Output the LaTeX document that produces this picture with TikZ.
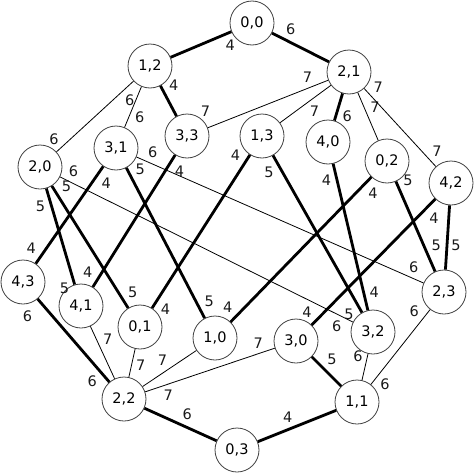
\documentclass[tikz,border=0pt]{standalone}
\usepackage{fontspec}
\setmainfont{DejaVu Sans}
\usepackage{tikz}

\begin{document}
\begin{tikzpicture}[
    x=1pt,
    y=-1pt,
    every node/.style={font=\fontsize{14.5}{16}\selectfont},
    vertex/.style={circle, draw=black!75, line width=0.8pt, fill=white, minimum size=44pt, inner sep=0pt},
    heavy/.style={line width=2.8pt, auto},
    light/.style={line width=0.8pt, auto},
    wt/.style={inner sep=2.5pt, text=black!90},
    far/.style={wt, inner sep=7pt}
]
\useasboundingbox (0,0) rectangle (474,474);

\node[vertex] (n00) at (252, 23) {0,0};
\node[vertex] (n12) at (150, 66) {1,2};
\node[vertex] (n21) at (349, 72) {2,1};
\node[vertex] (n33) at (187,136) {3,3};
\node[vertex] (n31) at (116,148) {3,1};
\node[vertex] (n13) at (262,136) {1,3};
\node[vertex] (n40) at (328,142) {4,0};
\node[vertex] (n02) at (387,161) {0,2};
\node[vertex] (n42) at (451,183) {4,2};
\node[vertex] (n20) at ( 40,167) {2,0};
\node[vertex] (n43) at ( 23,282) {4,3};
\node[vertex] (n41) at ( 81,306) {4,1};
\node[vertex] (n01) at (140,327) {0,1};
\node[vertex] (n10) at (215,338) {1,0};
\node[vertex] (n30) at (296,341) {3,0};
\node[vertex] (n32) at (373,332) {3,2};
\node[vertex] (n23) at (444,292) {2,3};
\node[vertex] (n22) at (124,399) {2,2};
\node[vertex] (n11) at (357,402) {1,1};
\node[vertex] (n03) at (237,450) {0,3};

% upper half
\draw[heavy] (n00) -- node[wt, pos=.16] {4} (n12);
\draw[heavy] (n00) -- node[wt, pos=.18] {6} (n21);
\draw[heavy] (n12) -- node[wt, pos=.29] {4} (n33);
\draw[light] (n12) -- node[wt, pos=.55] {6} (n31);
\draw[light] (n12) -- node[wt, pos=.145] {6} node[wt, swap, pos=.936] {6} (n20);
\draw[light] (n33) -- node[far, pos=.08] {7} node[wt, pos=.89] {7} (n21);
\draw[light] (n21) -- node[wt, pos=.47] {7} (n13);
\draw[heavy] (n21) -- node[wt, pos=.48] {6} (n40);
\draw[light] (n21) -- node[wt, pos=.47] {7} (n02);
\draw[light] (n21) -- node[wt, pos=.09] {7} node[wt, pos=.91] {7} (n42);

% crossing edges
\draw[heavy] (n33) -- node[wt, pos=.05] {4} node[wt, swap, pos=.96] {4} (n41);
\draw[heavy] (n31) -- node[wt, pos=.08] {4} node[wt, swap, pos=.94] {4} (n43);
\draw[heavy] (n31) -- node[wt, pos=.07] {5} node[wt, pos=.95] {5} (n10);
\draw[light] (n31) -- node[wt, pos=.03] {6} node[wt, pos=.94] {6} (n23);
\draw[light] (n20) -- node[wt, pos=.02] {6} node[wt, swap, pos=.97] {6} (n32);
\draw[heavy] (n20) -- node[wt, swap, pos=.09] {5} node[wt, swap, pos=.94] {5} (n41);
\draw[heavy] (n20) -- node[wt, pos=.08] {5} node[wt, pos=.95] {5} (n01);
\draw[heavy] (n13) -- node[wt, swap, pos=.06] {4} node[wt, pos=.95] {4} (n01);
\draw[heavy] (n13) -- node[wt, swap, pos=.05] {5} node[wt, swap, pos=.95] {5} (n32);
\draw[heavy] (n40) -- node[wt, swap, pos=.05] {4} node[wt, pos=.94] {4} (n32);
\draw[heavy] (n02) -- node[wt, pos=.05] {4} node[wt, swap, pos=.96] {4} (n10);
\draw[heavy] (n02) -- node[wt, pos=.09] {5} node[wt, pos=.81] {5} (n23);
\draw[heavy] (n42) -- node[wt, pos=.08] {4} node[wt, swap, pos=.97] {4} (n30);
\draw[heavy] (n42) -- node[wt, pos=.48] {5} (n23);

% lower half
\draw[heavy] (n43) -- node[far, swap, pos=.04] {6} node[wt, swap, pos=.88] {6} (n22);
\draw[light] (n41) -- node[wt, pos=.41] {7} (n22);
\draw[light] (n01) -- node[wt, pos=.30] {7} (n22);
\draw[light] (n10) -- node[wt, swap, pos=.49] {7} (n22);
\draw[light] (n22) -- node[wt, swap, pos=.12] {7} node[wt, pos=.93] {7} (n30);
\draw[heavy] (n22) -- node[wt, pos=.475] {6} (n03);
\draw[heavy] (n03) -- node[wt, pos=.49] {4} (n11);
\draw[heavy] (n30) -- node[wt, pos=.40] {5} (n11);
\draw[light] (n32) -- node[wt, swap, pos=.40] {6} (n11);
\draw[light] (n23) -- node[wt, swap, pos=.14] {6} node[wt, pos=.89] {6} (n11);
\end{tikzpicture}
\end{document}
